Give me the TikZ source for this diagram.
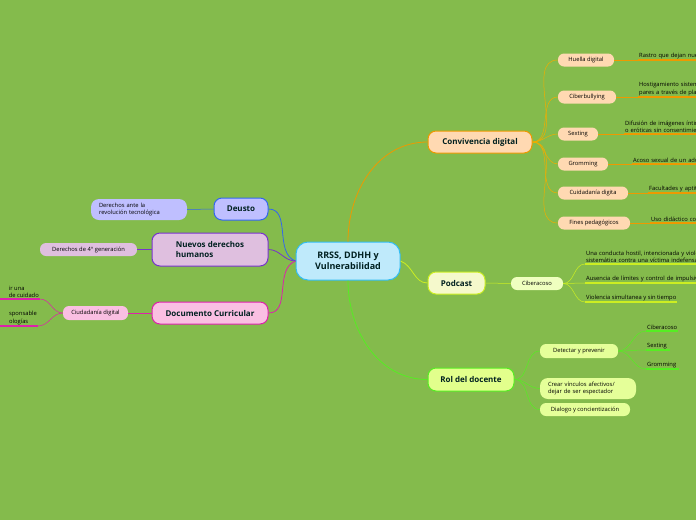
\documentclass[tikz,border=0pt]{standalone}
\usepackage{fontspec}
\setmainfont{Open Sans}
\definecolor{bg}{HTML}{84BB4C}
\definecolor{cOr}{HTML}{EE9900}
\definecolor{cBl}{HTML}{3366EE}
\definecolor{cPu}{HTML}{7733CC}
\definecolor{cMa}{HTML}{DD22AA}
\definecolor{cYe}{HTML}{CCEE22}
\definecolor{cGr}{HTML}{55EE22}
\tikzset{
  main/.style={draw, line width=1pt, rounded corners=8pt, font=\fontsize{8}{9.5}\selectfont\bfseries, text=black!75!teal, inner sep=0pt},
  sub/.style={rounded corners=6pt, font=\fontsize{5.8}{7.5}\selectfont, inner sep=0pt, align=left},
  leaf/.style={anchor=south west, font=\fontsize{5.8}{7.5}\selectfont, inner sep=1pt, align=left},
  link/.style={line width=0.8pt}
}
\begin{document}
\begin{tikzpicture}[x=1pt, y=-1pt]
\fill[bg] (0,0) rectangle (696,520);
\clip (0,0) rectangle (696,520);

% Center
\node[main, fill=cyan!25, draw=cyan!80, minimum width=104pt, minimum height=38pt, align=center, font=\fontsize{9}{11}\selectfont\bfseries, rounded corners=12pt] (root) at (348,261) {RRSS, DDHH y\\Vulnerabilidad};

% Main branches
\node[main, fill=orange!30, draw=cOr, minimum width=104pt, minimum height=22pt] (conv) at (480,142) {Convivencia digital};
\node[main, fill=blue!25, draw=cBl, minimum width=54pt, minimum height=22pt] (deus) at (241,209) {Deusto};
\node[main, fill=violet!25, draw=cPu, minimum width=116pt, minimum height=33pt, align=left] (nuev) at (210,249.5) {Nuevos derechos\\humanos};
\node[main, fill=magenta!25, draw=cMa, minimum width=116pt, minimum height=22pt] (docu) at (210,313) {Documento Curricular};
\node[main, fill=yellow!25!lime!20, draw=cYe, minimum width=57pt, minimum height=22pt] (podc) at (456.5,283) {Podcast};
\node[main, fill=lime!45, draw=cGr, minimum width=86pt, minimum height=23pt] (rold) at (471,379.5) {Rol del docente};

\draw[link, cOr] (root.north) to[out=90, in=180] (conv.west);
\draw[link, cBl] (root.west) to[out=160, in=0] (deus.east);
\draw[link, cPu] (root.west) to[out=180, in=0] (nuev.east);
\draw[link, cMa] (root.west) to[out=200, in=0] (docu.east);
\draw[link, cYe] (root.east) to[out=-20, in=180] (podc.west);
\draw[link, cGr] (root.south) to[out=-90, in=180] (rold.west);

% Convivencia digital
\foreach \n/\t/\x/\y/\w in {hue/Huella digital/586/60/56, cib/Ciberbullying/587/97/58, sex/Sexting/578/134/40, gro/Gromming/583/164/50, cui/Cuidadanía digita/593/193/70, fin/Fines pedagógicos/594/223/72}
  \node[sub, fill=orange!30, minimum width=\w pt, minimum height=13pt] (\n) at (\x,\y) {\t};
\foreach \n in {hue,cib,sex,gro,cui,fin}
  \draw[cOr!80!yellow, line width=0.5pt] (conv.east) to[out=0, in=180] (\n.west);

\node[leaf, text width=120pt] (hueL) at (638,60) {Rastro que dejan nuestras};
\node[leaf, text width=120pt] (cibL) at (638,97) {Hostigamiento sistemático entre\\pares a través de plataformas};
\node[leaf, text width=120pt] (sexL) at (624,134) {Difusión de imágenes íntimas\\o eróticas sin consentimiento};
\node[leaf, text width=120pt] (groL) at (632,164) {Acoso sexual de un adulto};
\node[leaf, text width=120pt] (cuiL) at (648,193) {Facultades y aptitudes};
\node[leaf, text width=120pt] (finL) at (650,223) {Uso didáctico con};
\foreach \n in {hue,cib,sex,gro,cui,fin}{
  \draw[cOr, line width=0.5pt] (\n.east) -- (\n L.south west);
  \draw[cOr, line width=1.2pt] (\n L.south west) -- (\n L.south east);
}

% Deusto / Nuevos derechos
\node[sub, fill=blue!25, minimum width=96pt, minimum height=21pt, rounded corners=8pt, text width=80pt] (deuL) at (139,209.5) {Derechos ante la\\revolución tecnológica};
\draw[cBl, line width=0.5pt] (deus.west) -- (deuL.east);
\node[sub, fill=violet!25, minimum width=97pt, minimum height=13pt] (nueL) at (88.5,249.5) {Derechos de 4° generación};
\draw[cPu, line width=0.5pt] (nuev.west) -- (nueL.east);

% Documento Curricular
\node[sub, fill=magenta!25, minimum width=65pt, minimum height=14pt] (ciu) at (95.5,313) {Ciudadanía digital};
\draw[cMa, line width=0.5pt] (docu.west) -- (ciu.east);
\node[leaf, anchor=south east] (ciuA) at (40,299) {ir una\\de cuidado};
\node[leaf, anchor=south east] (ciuB) at (38,326) {sponsable\\ologías};
\draw[cMa, line width=1.2pt] (-5,299) -- (40,299);
\draw[cMa, line width=1.2pt] (-5,326) -- (38,326);
\draw[cMa, line width=0.5pt] (ciu.west) to[out=180, in=0] (40,299);
\draw[cMa, line width=0.5pt] (ciu.west) to[out=180, in=0] (38,326);

% Podcast
\node[sub, fill=lime!25, minimum width=52pt, minimum height=13pt] (cbc) at (537,283.5) {Ciberacoso};
\draw[cYe, line width=0.5pt] (podc.east) -- (cbc.west);
\node[leaf, text width=130pt] (cbcA) at (585,264) {Una conducta hostil, intencionada y violenta\\sistemática contra una víctima indefensa};
\node[leaf, text width=130pt] (cbcB) at (585,283) {Ausencia de límites y control de impulsividad};
\node[leaf] (cbcC) at (585,302) {Violencia simultanea y sin tiempo};
\foreach \n in {cbcA,cbcB,cbcC}{
  \draw[cYe, line width=0.5pt] (cbc.east) to[out=0, in=180] (\n.south west);
  \draw[cYe, line width=1.2pt] (\n.south west) -- (\n.south east);
}

% Rol del docente
\node[sub, fill=lime!40, minimum width=78pt, minimum height=14pt] (det) at (579,351) {Detectar y prevenir};
\node[sub, fill=lime!40, minimum width=96pt, minimum height=21pt, rounded corners=8pt, text width=80pt] (cre) at (588,388.5) {Crear vínculos afectivos/\\dejar de ser espectador};
\node[sub, fill=lime!40, minimum width=90pt, minimum height=13pt] (dia) at (585,409.5) {Dialogo y concientización};
\foreach \n in {det,cre,dia}
  \draw[cGr, line width=0.5pt] (rold.east) to[out=0, in=180] (\n.west);
\node[leaf, text width=30pt] (detA) at (646,331) {Ciberacoso};
\node[leaf, text width=22pt] (detB) at (646,350) {Sexting};
\node[leaf, text width=31pt] (detC) at (646,369) {Gromming};
\foreach \n in {detA,detB,detC}{
  \draw[cGr, line width=0.5pt] (det.east) to[out=0, in=180] (\n.south west);
  \draw[cGr, line width=1.2pt] (\n.south west) -- (\n.south east);
}
\end{tikzpicture}
\end{document}
